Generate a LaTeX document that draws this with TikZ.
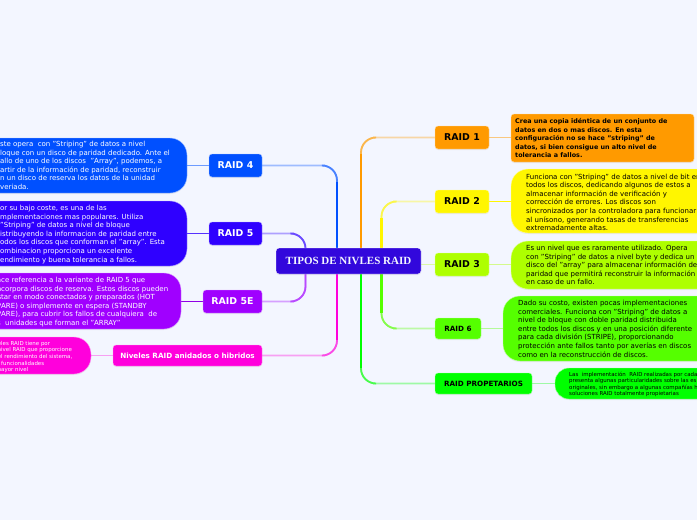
\documentclass[tikz,border=0pt]{standalone}
\usepackage{fontspec}
\setmainfont{DejaVu Sans}
\newfontfamily\titlefont{Liberation Serif}
\usetikzlibrary{shadows,calc}
\pgfdeclarelayer{bgl}
\pgfdeclarelayer{conl}
\pgfsetlayers{bgl,conl,main}
\definecolor{bgc}{HTML}{F3F6FF}
\definecolor{cmain}{HTML}{3207DC}
\definecolor{cfour}{HTML}{0050FF}
\definecolor{cfive}{HTML}{2F00FF}
\definecolor{cfivee}{HTML}{A000FF}
\definecolor{chyb}{HTML}{FF00DC}
\definecolor{cone}{HTML}{FF9A00}
\definecolor{ctwo}{HTML}{FFF600}
\definecolor{cthree}{HTML}{AEFF00}
\definecolor{csix}{HTML}{55FF00}
\definecolor{cprop}{HTML}{00FF00}
\tikzset{
  base/.style={rounded corners=3pt,inner sep=0pt,outer sep=0pt,drop shadow={opacity=.12,shadow xshift=0pt,shadow yshift=-1pt},draw=white!65!#1,line width=.4pt,fill=#1},
  lvl/.style={base=#1,font=\fontsize{9.4}{10}\selectfont\bfseries},
  lvls/.style={base=#1,font=\fontsize{7.2}{9}\selectfont\bfseries},
  desc/.style={base=#1,rounded corners=17pt},
  body/.style={anchor=north west,align=left,inner sep=0pt,font=\fontsize{7}{8.6}\selectfont},
  bodyb/.style={anchor=north west,align=left,inner sep=0pt,font=\fontsize{6.4}{8.4}\selectfont\bfseries},
  tiny/.style={anchor=north west,align=left,inner sep=0pt,font=\fontsize{5.45}{6.6}\selectfont},
  pale/.style={line width=1.6pt,draw=#1!35!bgc,rounded corners=15pt},
  mid/.style={line width=1.8pt,draw=#1!70!bgc,rounded corners=15pt},
  full/.style={line width=2.4pt,draw=#1},
  sublink/.style={line width=1.2pt,draw=#1}
}
% colour, level anchor, vertical x, end of arc x, main anchor
\newcommand{\conn}[5]{%
  \draw[pale=#1] (#2) -| (#3 |- #5);
  \draw[mid=#1] (#3 |- #5) |- (#4 |- #2);
  \draw[full=#1,shorten >=16pt] (#3 |- #5) -- (#3 |- #2);
}
\newcommand{\connshort}[5]{%
  \draw[pale=#1] (#2) -| (#3 |- #5);
  \draw[mid=#1] (#3 |- #5) |- (#4 |- #2);
}
\begin{document}
\begin{tikzpicture}[x=1pt,y=-1pt]
\useasboundingbox (0,0) rectangle (697,520);
\begin{pgfonlayer}{bgl}
\fill[bgc] (0,0) rectangle (697,520);
\end{pgfonlayer}
\clip (0,0) rectangle (697,520);

\coordinate (va) at (361,0);
\coordinate (vb) at (381.5,0);
\coordinate (vc) at (337,0);
\coordinate (vd) at (305.5,0);
\coordinate (ha) at (373,0);
\coordinate (hb) at (393,0);
\coordinate (hc) at (325,0);
\coordinate (hd) at (294,0);

% description shapes
\node[desc=cfour,minimum width=247pt,minimum height=55pt] (d4) at (63.5,165.5) {};
\node[desc=cfive,minimum width=247pt,minimum height=65pt] (d5) at (63.5,233.5) {};
\node[desc=cfivee,minimum width=241pt,minimum height=56pt] (d5e) at (60.5,301) {};
\node[desc=chyb,minimum width=151pt,minimum height=37pt] (dh) at (15.5,355.5) {};
\node[base=cone,minimum width=183pt,minimum height=48pt] (d1) at (602.5,138) {};
\node[desc=ctwo,minimum width=240pt,minimum height=64pt] (d2) at (631,201) {};
\node[desc=cthree,minimum width=240pt,minimum height=48pt] (d3) at (631,265) {};
\node[desc=csix,minimum width=248pt,minimum height=65pt] (d6) at (627,328.5) {};
\node[desc=cprop,rounded corners=14pt,minimum width=225pt,minimum height=31pt] (dp) at (667.5,383.5) {};

% level nodes
\node[lvl=cfour,text=white,minimum width=53pt,minimum height=23pt] (r4) at (235.5,165.5) {RAID 4};
\node[lvl=cfive,text=white,minimum width=53pt,minimum height=23pt] (r5) at (235.5,233.5) {RAID 5};
\node[lvl=cfivee,text=white,minimum width=59pt,minimum height=23pt] (r5e) at (232.5,301.5) {RAID 5E};
\node[lvls=chyb,text=white,minimum width=149pt,minimum height=21pt] (rh) at (187.5,355.5) {Niveles RAID anidados o hibridos};
\node[lvl=cone,minimum width=54pt,minimum height=23pt] (r1) at (462,137.5) {RAID 1};
\node[lvl=ctwo,minimum width=54pt,minimum height=23pt] (r2) at (462,201.5) {RAID 2};
\node[lvl=cthree,minimum width=54pt,minimum height=23pt] (r3) at (462,264.5) {RAID 3};
\node[lvls=csix,minimum width=46pt,minimum height=21pt] (r6) at (458,328.5) {RAID 6};
\node[lvls=cprop,minimum width=97pt,minimum height=21pt] (rp) at (483.5,383.5) {RAID PROPETARIOS};

% main node
\node[base=cmain,draw=white,text=bgc,font=\titlefont\fontsize{11}{12}\selectfont\bfseries,minimum width=145pt,minimum height=26pt] (main) at (348.5,261) {TIPOS DE NIVLES RAID};

\begin{pgfonlayer}{conl}
\draw[sublink=cfour!55!bgc] (r4.west) -- (d4.east |- r4.west);
\draw[sublink=cfive!80!bgc,line width=.9pt] (r5.west) -- (d5.east |- r5.west);
\draw[sublink=cfivee!90!black,line width=.9pt] (r5e.west) -- (d5e.east |- r5e.west);
\draw[sublink=chyb!35!bgc] (rh.west) -- (dh.east |- rh.west);
\draw[sublink=cone!50!bgc] (r1.east) -- (d1.west |- r1.east);
\draw[sublink=ctwo] (r2.east) -- (d2.west |- r2.east);
\draw[sublink=cthree!45!bgc] (r3.east) -- (d3.west |- r3.east);
\draw[sublink=csix!40!bgc,line width=.9pt] (r6.east) -- (d6.west |- r6.east);
\draw[sublink=cprop!35!bgc] (rp.east) -- (dp.west |- rp.east);

\conn{cone}{r1.west}{va}{ha}{main.north}
\conn{ctwo}{r2.west}{vb}{hb}{main.north}
\draw[pale=cthree] (main.east |- r3.west) -- (r3.west);
\conn{csix}{r6.west}{vb}{hb}{main.south}
\conn{cprop}{rp.west}{va}{ha}{main.south}
\conn{cfour}{r4.east}{vc}{hc}{main.north}
\connshort{cfive}{r5.east}{vd}{hd}{main.north}
\connshort{cfivee}{r5e.east}{vd}{hd}{main.south}
\conn{chyb}{rh.east}{vc}{hc}{main.south}
\end{pgfonlayer}

% description texts
\node[body,text=white] (t4) at (0,141) {\llap{E}ste opera\ \ con "Striping" de datos a nivel\\\llap{b}loque con un disco de paridad dedicado. Ante el\\\llap{f}allo de uno de los discos\ \ "Array", podemos, a\\\llap{p}artir de la información de paridad, reconstruir\\\llap{e}n un disco de reserva los datos de la unidad\\\llap{a}veriada.};
\node[body,text=white] (t5) at (0,205) {\llap{P}or su bajo coste, es una de las\\\llap{i}mplementaciones mas populares. Utiliza\\"Striping" de datos a nivel de bloque\\\llap{d}istribuyendo la informacion de paridad entre\\\llap{t}odos los discos que conforman el "array". Esta\\\llap{c}ombinacion proporciona un excelente\\\llap{r}endimiento y buena tolerancia a fallos.};
\node[body,text=white] (t5e) at (1,277) {\llap{Ha}ce referencia a la variante de RAID 5 que\\\llap{in}corpora discos de reserva. Estos discos pueden\\\llap{es}tar en modo conectados y preparados (HOT\\\llap{SP}ARE) o simplemente en espera (STANDBY\\\llap{SP}ARE), para cubrir los fallos de cualquiera\ \ de\\\hspace*{4pt}\llap{las\ \ }unidades que forman el "ARRAY"};
\node[tiny,text=white] (th) at (1,341) {\llap{Nive}les RAID tiene por\\\llap{n}ivel RAID que proporcione\\\llap{e}l rendimiento del sistema,\\funcionalidades\\\llap{m}ayor nivel};
\node[bodyb] (t1) at (515,118.5) {Crea una copia idéntica de un conjunto de\\datos en dos o mas discos. En esta\\configuración no se hace "striping" de\\datos, si bien consigue un alto nivel de\\tolerancia a fallos.};
\node[body] (t2) at (526,173.5) {Funciona con "Striping" de datos a nivel de bit en\\todos los discos, dedicando algunos de estos a\\almacenar información de verificación y\\corrección de errores. Los discos son\\sincronizados por la controladora para funcionar\\al unísono, generando tasas de transferencias\\extremadamente altas.};
\node[body] (t3) at (526,245) {Es un nivel que es raramente utilizado. Opera\\con "Striping" de datos a nivel byte y dedica un\\disco del "array" para almacenar información de\\paridad que permitirá reconstruir la información\\en caso de un fallo.};
\node[body] (t6) at (518,300) {Dado su costo, existen pocas implementaciones\\comerciales. Funciona con "Striping" de datos a\\nivel de bloque con doble paridad distribuida\\entre todos los discos y en una posición diferente\\para cada división (STRIPE), proporcionando\\protección ante fallos tanto por averías en discos\\como en la reconstrucción de discos.};
\node[tiny] (tp) at (569,371.5) {Las\ \ implementación\ \ RAID realizadas por cada\\presenta algunas particularidades sobre las especificaciones\\originales, sin embargo a algunas compañías han\\soluciones RAID totalmente propietarias};
\end{tikzpicture}
\end{document}
